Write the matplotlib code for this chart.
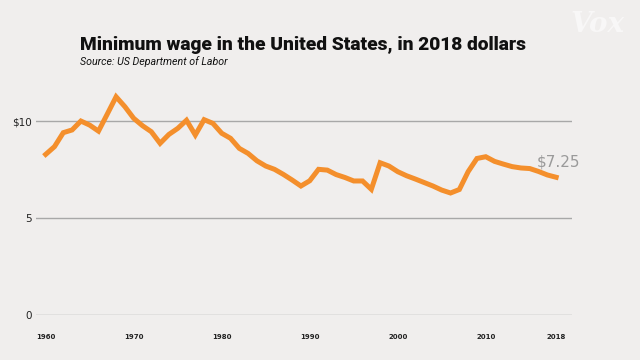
import matplotlib
matplotlib.use("Agg")
import matplotlib.pyplot as plt

# minimum wage in 2018 dollars
years = list(range(1960, 2019))
wage = [8.28, 8.68, 9.40, 9.54, 10.00, 9.79, 9.48, 10.36, 11.25, 10.74,
        10.14, 9.76, 9.45, 8.85, 9.31, 9.62, 10.04, 9.28, 10.07, 9.88,
        9.37, 9.11, 8.59, 8.33, 7.95, 7.68, 7.51, 7.25, 6.96, 6.65,
        6.92, 7.51, 7.47, 7.24, 7.09, 6.91, 6.91, 6.48, 7.85, 7.68,
        7.39, 7.18, 7.01, 6.83, 6.65, 6.44, 6.29, 6.47, 7.39, 8.07,
        8.16, 7.92, 7.78, 7.65, 7.58, 7.55, 7.40, 7.22, 7.10]

ytick_vals = [0, 5, 10]
ytick_labels = ["0", "5", "$10"]
xtick_vals = [1960, 1970, 1980, 1990, 2000, 2010, 2018]
end_label = "$7.25"

bg = "#f0eeed"
orange = "#f48f2c"
narrow = ["Roboto", "DejaVu Sans"]

fig = plt.figure(figsize=(6.4, 3.6), dpi=100, facecolor=bg)
ax = fig.add_axes([36 / 640, 45 / 360, (572 - 36) / 640, 225 / 360])
ax.set_facecolor(bg)

ax.plot(years, wage, color=orange, linewidth=3.6, solid_joinstyle="miter",
        zorder=3)

ax.set_xlim(1958.9, 2019.8)
ax.set_ylim(0, 11.6)
for v in ytick_vals:
    ax.axhline(v, color="#a8a8a8", linewidth=1.0, zorder=1)

ax.set_yticks(ytick_vals)
ax.set_yticklabels(ytick_labels, fontsize=7.5, color="#222222")
ax.set_xticks(xtick_vals)
ax.set_xticklabels([str(y) for y in xtick_vals], fontsize=5, fontweight="bold",
                   color="#222222")
ax.tick_params(axis="both", length=0)
ax.tick_params(axis="y", pad=3)
ax.tick_params(axis="x", pad=14)
for s in ax.spines.values():
    s.set_visible(False)

ax.annotate(end_label, (years[-1], wage[-1]), xytext=(-14, 11),
            textcoords="offset points", fontsize=11, color="#9a9a9a",
            ha="left", va="center")

fig.text(80 / 640, 1 - 45 / 360, "Minimum wage in the United States, in 2018 dollars",
         family=narrow, fontsize=13.8, fontweight=900, color="#111111",
         ha="left", va="center")
fig.text(80 / 640, 1 - 62 / 360, "Source: US Department of Labor",
         family=narrow, fontsize=7.7, style="italic", color="#111111",
         ha="left", va="center")
fig.text(598 / 640, 1 - 24 / 360, "Vox", family="DejaVu Serif", fontsize=20,
         style="italic", fontweight="bold", color="#f8f7f7", ha="center",
         va="center")

fig.savefig("out.png", dpi=100, facecolor=bg)
